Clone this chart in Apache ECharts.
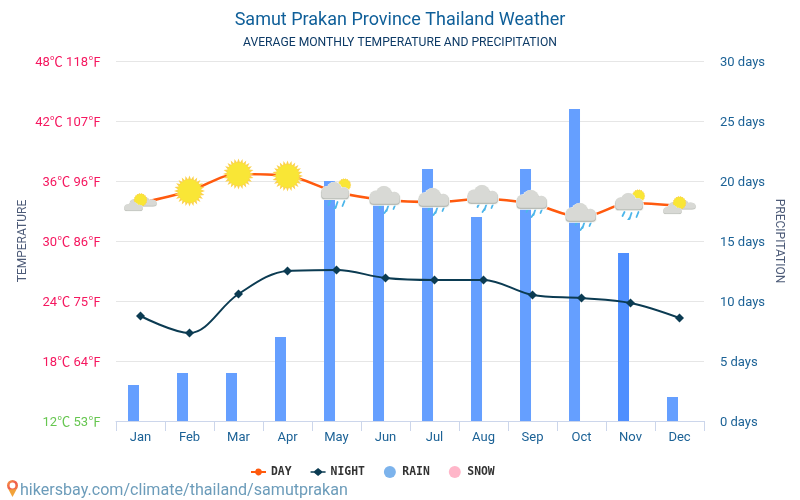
<!DOCTYPE html>
<html>
<head>
<meta charset="utf-8">
<title>Samut Prakan Province Thailand Weather</title>
<style>
html,body{margin:0;padding:0;background:#fff;}
#chart{width:800px;height:500px;}
</style>
<script src="https://cdn.jsdelivr.net/npm/echarts@6/dist/echarts.min.js"></script>
</head>
<body>
<div id="chart"></div>
<script>
var months = ['Jan','Feb','Mar','Apr','May','Jun','Jul','Aug','Sep','Oct','Nov','Dec'];
var dayTemp = [33.8,35.0,36.7,36.5,34.9,34.1,33.9,34.2,33.7,32.4,33.8,33.5];
var nightTemp = [22.5,20.8,24.7,27.0,27.1,26.3,26.1,26.1,24.6,24.3,23.8,22.3];
var rainDays = [3,4,4,7,20,18,21,17,21,26,14,2];
var snowDays = [0,0,0,0,0,0,0,0,0,0,0,0];
var sky = ['partly','sun','sun','sun','sunrain','rain','rain','rain','rain','rain','sunrain','partly'];
var tempTicks = {12:'12℃ 53℉',18:'18℃ 64℉',24:'24℃ 75℉',30:'30℃ 86℉',36:'36℃ 96℉',42:'42℃ 107℉',48:'48℃ 118℉'};

var font = 'Roboto';
var labelFont = 'Roboto, "Noto Sans CJK SC"';
var blue = '#1c6296';

// weather icons, used as point symbols of the day line
function svgUri(w, h, body){
	var s = '<svg xmlns="http://www.w3.org/2000/svg" width="'+(w*4)+'" height="'+(h*4)+'" viewBox="0 0 '+w+' '+h+'">'+body+'</svg>';
	return 'image://data:image/svg+xml;charset=utf-8,'+encodeURIComponent(s);
}
function sunBody(cx, cy, r, spike, n){
	var pts = [];
	for(var i=0;i<n*2;i++){
		var a = Math.PI*i/n, rr = i%2 ? r : r+spike;
		pts.push((cx+rr*Math.cos(a)).toFixed(2)+','+(cy+rr*Math.sin(a)).toFixed(2));
	}
	return '<polygon points="'+pts.join(' ')+'" fill="#fbd24e"/><circle cx="'+cx+'" cy="'+cy+'" r="'+r+'" fill="#f9e636"/>';
}
function cloudBody(x, y, kx, ky){
	var shape = function(fill, grow){
		return '<g fill="'+fill+'"><circle cx="9" cy="10" r="'+(5.5+grow)+'"/>'
			+'<circle cx="16" cy="7.5" r="'+(7+grow)+'"/>'
			+'<circle cx="25" cy="10.5" r="'+(5+grow)+'"/>'
			+'<rect x="'+(3.5-grow)+'" y="'+(9-grow)+'" width="'+(26.5+2*grow)+'" height="'+(7.5+2*grow)+'" rx="3.5"/></g>';
	};
	return '<g transform="translate('+x+' '+y+') scale('+kx+' '+ky+')">'+shape('#f4f5f2',0.7)+shape('#b9bcb6',0)+
		'<g transform="translate(0,-0.8)">'+shape('#d8d9d5',-0.3)+'</g></g>';
}
function dropsBody(x, y){
	var d = [[x,y,4],[x+7,y+1,6],[x+14,y,5],[x+5,y+6,3]], out = '';
	for(var i=0;i<d.length;i++){
		out += '<line x1="'+(d[i][0]+2)+'" y1="'+d[i][1]+'" x2="'+d[i][0]+'" y2="'+(d[i][1]+d[i][2])+'" stroke="#4db6ea" stroke-width="1.8" stroke-linecap="round"/>';
	}
	return out;
}
var icons = {
	sun: {img: svgUri(32,32,sunBody(16,16,11.5,4,24)), size:[32,32]},
	rain: {img: svgUri(34,34,dropsBody(11,21)+cloudBody(-3,3,1.15,1.15)), size:[34,34]},
	sunrain: {img: svgUri(34,34,sunBody(25,10,5.8,1,18)+dropsBody(9,26)+cloudBody(-2,7,1.05,1.05)), size:[34,34]},
	partly: {img: svgUri(34,22,cloudBody(3,4.5,1,0.6)+sunBody(17,8,6,1,18)+cloudBody(-1.4,10,0.68,0.55)), size:[34,22]}
};

var dayData = [];
for(var i=0;i<dayTemp.length;i++){
	var ic = icons[sky[i]];
	dayData.push({value:dayTemp[i], symbol:ic.img, symbolSize:ic.size});
}

// legend keys: the two dots at top and bottom only hold the 15x12 box
var keyBox = 'M7.5 0h.01v.01zM7.5 11.99h.01v.01z';
var dayKey = 'path://'+keyBox+'M0 5H4.2A3.5 3.5 0 0 1 10.8 5H15V7H10.8A3.5 3.5 0 0 1 4.2 7H0Z';
var nightKey = 'path://'+keyBox+'M0 5.2H3.5L7.5 2L11.5 5.2H15V6.8H11.5L7.5 10L3.5 6.8H0Z';

var chart = echarts.init(document.getElementById('chart'));
var option = {
	animation:false,
	backgroundColor:'#fff',
	title:[
		{text:'Samut Prakan Province Thailand Weather',left:395,top:6,textAlign:'center',
			textStyle:{fontFamily:font,fontSize:18,fontWeight:'normal',color:'#0f5f99'}},
		{text:'AVERAGE MONTHLY TEMPERATURE AND PRECIPITATION',left:395,top:32,textAlign:'center',
			textStyle:{fontFamily:font,fontSize:12.15,fontWeight:'normal',color:'#0d3a66'}}
	],
	grid:{left:116,right:96,top:61,bottom:79},
	legend:{
		left:246,top:461,itemWidth:15,itemHeight:12,itemGap:19,
		textStyle:{fontFamily:'"DejaVu Sans Mono"',fontSize:11.4,fontWeight:'bold',color:'#333'},
		data:[
			{name:'DAY',icon:dayKey},
			{name:'NIGHT',icon:nightKey},
			{name:'RAIN',icon:'circle',itemStyle:{color:'#7cb3ec'}},
			{name:'SNOW',icon:'circle',itemStyle:{color:'#ffb6c9'}}
		]
	},
	xAxis:{
		type:'category',data:months,
		axisLine:{lineStyle:{color:'#ccd6eb',width:1}},
		axisTick:{show:true,length:10,lineStyle:{color:'#ccd6eb'},alignWithLabel:false},
		axisLabel:{fontFamily:font,fontSize:13,color:blue,margin:10}
	},
	yAxis:[
		{
			type:'value',min:12,max:48,interval:6,
			name:'TEMPERATURE',nameLocation:'middle',nameRotate:90,nameGap:87,nameMoveOverlap:false,
			nameTextStyle:{fontFamily:font,fontSize:12,color:'#4d5b78'},
			axisLine:{show:false},axisTick:{show:false},
			axisLabel:{fontFamily:labelFont,fontSize:13,margin:15,verticalAlign:'top',lineHeight:3,
				formatter:function(v){return tempTicks[v];},
				color:function(v){return Number(v)==12 ? '#66c650' : '#f5175f';}},
			splitLine:{lineStyle:{color:'#e6e6e6',width:1}}
		},
		{
			type:'value',min:0,max:30,interval:5,position:'right',
			name:'PRECIPITATION',nameLocation:'middle',nameRotate:-90,nameGap:69,nameMoveOverlap:false,
			nameTextStyle:{fontFamily:font,fontSize:12,color:'#4d5b78'},
			axisLine:{show:false},axisTick:{show:false},
			axisLabel:{fontFamily:font,fontSize:13,margin:16,verticalAlign:'top',lineHeight:3,color:blue,formatter:'{value} days'},
			splitLine:{show:false}
		}
	],
	series:[
		{name:'DAY',type:'line',smooth:0.35,z:5,symbol:'circle',symbolSize:8,
			itemStyle:{color:'#ff5a0e'},lineStyle:{color:'#ff5a0e',width:2.5},data:dayData},
		{name:'NIGHT',type:'line',smooth:0.35,z:4,symbol:'diamond',symbolSize:9,
			itemStyle:{color:'#0b3b52'},lineStyle:{color:'#0b3b52',width:2},data:nightTemp},
		{name:'RAIN',type:'bar',yAxisIndex:1,barWidth:11,barGap:'27%',z:2,
			itemStyle:{color:function(p){return p.dataIndex==10 ? '#4f8fff' : '#659fff';}},data:rainDays},
		{name:'SNOW',type:'bar',yAxisIndex:1,barWidth:11,barGap:'27%',z:2,
			itemStyle:{color:'#ffb6c9'},data:snowDays}
	],
	graphic:[
		{type:'text',left:20,top:483,style:{text:'hikersbay.com/climate/thailand/samutprakan',
			font:'16.1px Roboto',fill:'#6c9cba'}},
		{type:'circle',shape:{cx:12.5,cy:485.5,r:4.2},style:{fill:'none',lineWidth:2.6,
			stroke:new echarts.graphic.LinearGradient(0,0,1,1,[{offset:0,color:'#f8b53c'},{offset:0.5,color:'#ef5a4e'},{offset:1,color:'#f28a3a'}])}},
		{type:'polygon',shape:{points:[[8.5,489.5],[16.5,489.5],[12.5,497]]},style:{fill:'#f2a33a'}}
	]
};
chart.setOption(option);
window.onresize = chart.resize;
</script>
</body>
</html>
